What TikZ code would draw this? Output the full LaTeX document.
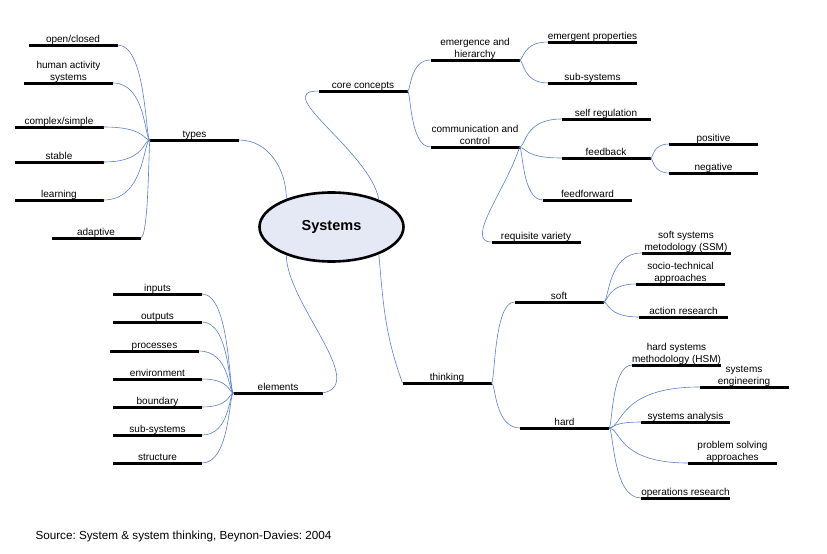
\documentclass[tikz,border=0pt]{standalone}
\usepackage{fontspec}
\setmainfont{Liberation Sans}
\usetikzlibrary{calc, shapes.geometric}
\definecolor{linkblue}{HTML}{5B80C4}
\definecolor{sysfill}{HTML}{E4E9F5}
\frenchspacing

\begin{document}
\begin{tikzpicture}[x=1pt, y=1pt,
    topic/.style={fill=black, minimum width=89pt, minimum height=3pt,
                  inner sep=0pt, outer sep=0pt, label distance=3pt},
    every label/.style={font=\fontsize{10}{12}\selectfont, align=center,
                        inner sep=1pt, text depth=0pt},
    hub/.style={ellipse, draw=black, line width=2.6pt, fill=sysfill,
                minimum width=144pt, minimum height=69pt, inner sep=0pt,
                font=\bfseries\fontsize{14.5}{17}\selectfont},
    link/.style={draw=linkblue, line width=0.6pt},
    branch/.style={to path={.. controls ($(\tikztostart)!0.15!(\tikztotarget |- \tikztostart)$)
                   and ($(\tikztotarget)!0.9!(\tikztostart |- \tikztotarget)$) .. (\tikztotarget)}},
]
    \useasboundingbox (0,0) rectangle (827,-554);

    % Centre
    \node[hub] (sys) at (331.5,-227) {Systems};

    % Types
    \node[topic, label=above:types] (types) at (194.5,-140) {};
    \node[topic, label=above:open/closed] (openc) at (73,-45) {};
    \node[topic, label=above:{human activity\\systems}] (human) at (68.5,-83) {};
    \node[topic, label=above:complex/simple] (complex) at (59,-127) {};
    \node[topic, label=above:stable] (stable) at (59,-162) {};
    \node[topic, label=above:learning] (learning) at (59,-200) {};
    \node[topic, label=above:adaptive] (adaptive) at (96,-238) {};

    % Core concepts
    \node[topic, label=above:core concepts] (core) at (363,-91) {};
    \node[topic, label=above:{emergence and\\hierarchy}] (emerg) at (475,-60) {};
    \node[topic, label=above:{communication and\\control}] (comm) at (475,-147) {};
    \node[topic, label=above:emergent properties] (emprop) at (592.5,-42) {};
    \node[topic, label=above:sub-systems] (subsys) at (592.5,-83) {};
    \node[topic, label=above:self regulation] (selfreg) at (606,-119) {};
    \node[topic, label=above:feedback] (feedback) at (606,-158) {};
    \node[topic, label=above:feedforward] (feedfwd) at (587.5,-200) {};
    \node[topic, label=above:requisite variety] (reqvar) at (536,-242) {};
    \node[topic, label=above:positive] (positive) at (713.5,-144) {};
    \node[topic, label=above:negative] (negative) at (713.5,-173) {};

    % Thinking
    \node[topic, label=above:thinking] (thinking) at (447,-383) {};
    \node[topic, label=above:soft] (soft) at (559,-302) {};
    \node[topic, label=above:hard] (hard) at (564.5,-428) {};
    \node[topic, label=above:{soft systems\\metodology (SSM)}] (ssm) at (686,-253) {};
    \node[topic, label=above:{socio-technical\\approaches}] (sociotech) at (680.5,-284) {};
    \node[topic, label=above:action research] (action) at (683.5,-317) {};
    \node[topic, label=above:{hard systems\\methodology (HSM)}] (hsm) at (676.5,-365) {};
    \node[topic, label=above:{systems\\engineering}] (syseng) at (744,-387) {};
    \node[topic, label=above:systems analysis] (sysana) at (685.5,-422) {};
    \node[topic, label=above:{problem solving\\approaches}] (problem) at (732.5,-463) {};
    \node[topic, label=above:operations research] (opres) at (685.5,-498) {};

    % Elements
    \node[topic, label=above:elements] (elements) at (278,-393) {};
    \node[topic, label=above:inputs] (inputs) at (157.5,-294) {};
    \node[topic, label=above:outputs] (outputs) at (157.5,-322) {};
    \node[topic, label=above:processes] (processes) at (154.5,-351) {};
    \node[topic, label=above:environment] (environment) at (157.5,-379) {};
    \node[topic, label=above:boundary] (boundary) at (157.5,-407) {};
    \node[topic, label=above:sub-systems] (elsubsys) at (157.5,-435) {};
    \node[topic, label=above:structure] (structure) at (157.5,-463) {};

    % Connectors
    \draw[link] (types.east) to[out=0, in=90] (sys.148);
    \draw[link] (sys.30) to[out=100, in=180] (core.west);
    \draw[link] (sys.330) to[out=-85, in=110] (thinking.west);
    \draw[link] (sys.212) to[out=-90, in=10, looseness=0.85] (elements.east);

    \foreach \c in {openc, human, complex, stable, learning, adaptive}
        \draw[link] (types.west) to[branch] (\c.east);
    \foreach \c in {inputs, outputs, processes, environment, boundary, elsubsys, structure}
        \draw[link] (elements.west) to[branch] (\c.east);
    \foreach \c in {emerg, comm}
        \draw[link] (core.east) to[branch] (\c.west);
    \foreach \c in {emprop, subsys}
        \draw[link] (emerg.east) to[branch] (\c.west);
    \foreach \c in {selfreg, feedback, feedfwd}
        \draw[link] (comm.east) to[branch] (\c.west);
    \draw[link] (comm.east) .. controls +(-12,-40) and +(-28,0) .. (reqvar.west);
    \foreach \c in {positive, negative}
        \draw[link] (feedback.east) to[branch] (\c.west);
    \foreach \c in {soft, hard}
        \draw[link] (thinking.east) to[branch] (\c.west);
    \foreach \c in {ssm, sociotech, action}
        \draw[link] (soft.east) to[branch] (\c.west);
    \foreach \c in {hsm, syseng, sysana, problem, opres}
        \draw[link] (hard.east) to[branch] (\c.west);

    % Source
    \node[font=\fontsize{11.7}{14}\selectfont, anchor=base west] (source) at (32,-539.3)
        {Source: System \& system thinking, Beynon-Davies: 2004};
\end{tikzpicture}
\end{document}
